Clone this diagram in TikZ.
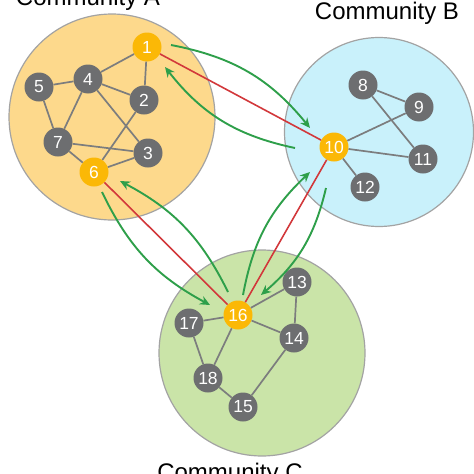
\documentclass[tikz,border=0pt]{standalone}
\usepackage{fontspec}
\setmainfont{Liberation Sans}
\usetikzlibrary{arrows.meta}
\definecolor{nodegray}{HTML}{6D6E70}
\definecolor{seedgold}{HTML}{FBB806}
\definecolor{fillA}{HTML}{FDD98C}
\definecolor{fillB}{HTML}{C9F1FB}
\definecolor{fillC}{HTML}{CAE4A8}
\definecolor{rimgray}{HTML}{A3A3A3}
\definecolor{linkred}{HTML}{D2383B}
\definecolor{linkgreen}{HTML}{2E9F4A}
\begin{document}
\begin{tikzpicture}[x=1pt,y=-1pt,
  community/.style={circle,draw=rimgray,line width=1.2pt,inner sep=0pt},
  vertex/.style={circle,fill=nodegray,text=white,inner sep=0pt,minimum size=29pt,
    font=\fontsize{17.5}{17.5}\selectfont},
  seed/.style={vertex,fill=seedgold},
  edge/.style={draw=nodegray!90,line width=1.7pt},
  cut/.style={draw=linkred,line width=1.6pt},
  flow/.style={draw=linkgreen,line width=1.9pt,-{Stealth[length=10pt,width=9pt]}},
  title/.style={anchor=base,font=\fontsize{24}{24}\selectfont}]
  \useasboundingbox (0,0) rectangle (474,474);
  % communities
  \node[community,fill=fillA,minimum size=206pt] (ca) at (112,117) {};
  \node[community,fill=fillB,minimum size=189pt] (cb) at (379,132) {};
  \node[community,fill=fillC,minimum size=206pt] (cc) at (262,353) {};
  \node[title] (ta) at (88,5) {Community A};
  \node[title] (tb) at (387,19) {Community B};
  \node[title] (tc) at (230,480) {Community C};
  % community A
  \node[seed] (n1) at (147,47) {1};
  \node[vertex] (n4) at (88,79) {4};
  \node[vertex] (n5) at (39,87) {5};
  \node[vertex] (n2) at (144,100) {2};
  \node[vertex] (n7) at (58,142) {7};
  \node[vertex] (n3) at (148,153) {3};
  \node[seed] (n6) at (94,172) {6};
  % community B
  \node[vertex] (n8) at (363,85) {8};
  \node[vertex] (n9) at (419,107) {9};
  \node[seed] (n10) at (334,147) {10};
  \node[vertex] (n11) at (423,159) {11};
  \node[vertex] (n12) at (365,187) {12};
  % community C
  \node[seed] (n16) at (238,315) {16};
  \node[vertex] (n13) at (297,282) {13};
  \node[vertex] (n14) at (294,338) {14};
  \node[vertex] (n17) at (189,323) {17};
  \node[vertex] (n18) at (208,378) {18};
  \node[vertex] (n15) at (243,407) {15};
  % links
  \path[edge] (n1)--(n4) (n1)--(n2) (n4)--(n5) (n4)--(n2) (n4)--(n7) (n4)--(n3)
              (n5)--(n7) (n7)--(n3) (n7)--(n6) (n6)--(n3) (n6)--(n2);
  \path[edge] (n8)--(n9) (n8)--(n11) (n10)--(n9) (n10)--(n11) (n10)--(n12);
  \path[edge] (n16)--(n13) (n16)--(n14) (n16)--(n17) (n16)--(n18)
              (n13)--(n14) (n14)--(n15) (n17)--(n18) (n18)--(n15);
  \path[cut] (n1)--(n10) (n6)--(n16) (n10)--(n16);
  % flows between seeds
  \coordinate (a1) at (171,45);  \coordinate (b1) at (310,128);
  \coordinate (a2) at (295,148); \coordinate (b2) at (165,67);
  \coordinate (a3) at (102,192); \coordinate (b3) at (210,305);
  \coordinate (a4) at (228,292); \coordinate (b4) at (120,181);
  \coordinate (a5) at (243,295); \coordinate (b5) at (310,172);
  \coordinate (a6) at (326,188); \coordinate (b6) at (261,295);
  \draw[flow] (a1) to[bend left=20] (b1);
  \draw[flow] (a2) to[bend left=20] (b2);
  \draw[flow] (a3) to[bend right=18] (b3);
  \draw[flow] (a4) to[bend right=18] (b4);
  \draw[flow] (a5) to[bend left=18] (b5);
  \draw[flow] (a6) to[bend left=18] (b6);
\end{tikzpicture}
\end{document}
